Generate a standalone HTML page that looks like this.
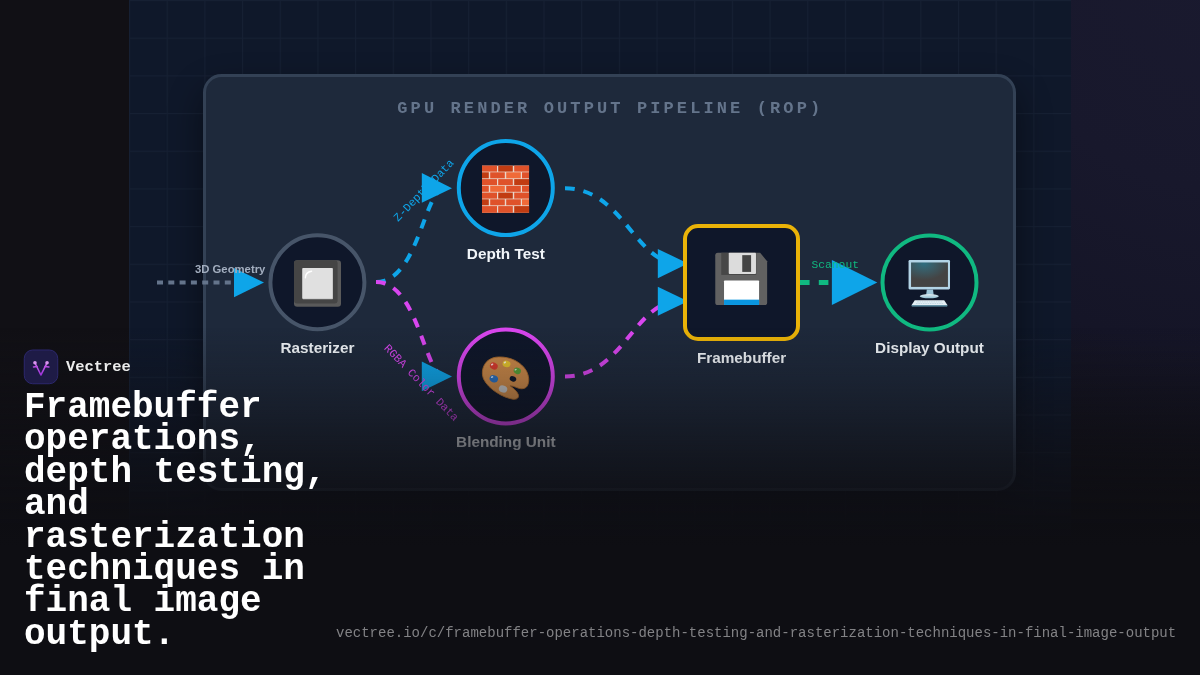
<!DOCTYPE html>
<html><head><meta charset="utf-8">
<style>
html,body{margin:0;padding:0;}
body{width:1200px;height:675px;overflow:hidden;position:relative;background:#111015;font-family:"Liberation Sans",sans-serif;}
#glow{position:absolute;left:0;top:0;width:1200px;height:675px;background:radial-gradient(circle at 1230px -40px,#1a1a2f 0px,#18182c 230px,#151527 390px,#111015 560px);}
#dia{position:absolute;left:0;top:0;width:1200px;height:675px;will-change:transform;}
#ov{position:absolute;left:0;top:0;width:1200px;height:675px;background:linear-gradient(to bottom,rgba(14,14,19,0) 0px,rgba(14,14,19,0) 328px,rgba(14,14,19,0.22) 380px,rgba(14,14,19,0.48) 425px,rgba(14,14,19,0.68) 460px,rgba(14,14,19,0.83) 490px,rgba(14,14,19,0.95) 520px,#0e0e13 548px,#0e0e13 675px);}
#brand{will-change:transform;position:absolute;left:66px;top:354.5px;font:bold 15.4px/24px "Liberation Mono",monospace;color:#ececec;}
#title{will-change:transform;position:absolute;left:24px;top:392px;width:340px;font:bold 36px/32.4px "Liberation Mono",monospace;color:#fff;margin:0;}
#url{will-change:transform;position:absolute;right:24px;top:623.3px;font:14px/20px "Liberation Mono",monospace;color:#828285;}
#logo{position:absolute;left:0;top:0;will-change:transform;}
</style></head><body>
<div id="glow"></div>
<svg id="dia" width="1200" height="675" viewBox="0 0 1200 675">
  <defs>
    <pattern id="grid" x="129" y="0" width="37.68" height="37.68" patternUnits="userSpaceOnUse">
      <rect x="0" y="0" width="37.68" height="1" fill="#162033"/>
      <rect x="0" y="0" width="1" height="37.68" fill="#162033"/>
    </pattern>
    <filter id="shadow" x="-20%" y="-20%" width="140%" height="150%">
      <feGaussianBlur stdDeviation="18"/>
    </filter>
    <radialGradient id="scr" cx="0.35" cy="0.05" r="0.95">
      <stop offset="0" stop-color="#2e6e80"/>
      <stop offset="0.3" stop-color="#3a5c66"/>
      <stop offset="0.7" stop-color="#444"/>
      <stop offset="1" stop-color="#444"/>
    </radialGradient>
    <linearGradient id="base" x1="0" y1="0" x2="0" y2="1">
      <stop offset="0" stop-color="#e3eff5"/>
      <stop offset="1" stop-color="#8dbccf"/>
    </linearGradient>
  </defs>
  <rect x="129" y="0" width="942" height="675" fill="#0f182a"/>
  <rect x="129" y="0" width="942" height="675" fill="url(#grid)"/>
  <!-- card shadow -->
  <rect x="203" y="90" width="813" height="417" rx="18" fill="#000" opacity="0.45" filter="url(#shadow)"/>
  <!-- card -->
  <rect x="204.5" y="75.5" width="810" height="414" rx="17" fill="#1e293b" stroke="#334155" stroke-width="3"/>
  <text x="610.3" y="113" text-anchor="middle" font-family="Liberation Mono" font-weight="bold" font-size="17" letter-spacing="3.11" fill="#64748b">GPU RENDER OUTPUT PIPELINE (ROP)</text>

  <!-- edges -->
  <line x1="157" y1="282.5" x2="234" y2="282.5" stroke="#64748b" stroke-width="4" stroke-dasharray="6 5.3"/>
  <path d="M376 282 C418.8 282 424.2 188.3 444.6 188.3" fill="none" stroke="#0ea5e9" stroke-width="4" stroke-dasharray="9.7 8.9"/>
  <path d="M376 282 C418.8 282 424.2 376.4 444.6 376.4" fill="none" stroke="#d946ef" stroke-width="4" stroke-dasharray="9.7 8.9"/>
  <path d="M565 188.3 C623.4 188.3 634.4 263.5 679 263.5" fill="none" stroke="#0ea5e9" stroke-width="4" stroke-dasharray="9.7 8.9"/>
  <path d="M565 376.4 C623.5 376.4 634.3 301.3 678.6 301.3" fill="none" stroke="#d946ef" stroke-width="4" stroke-dasharray="9.7 8.9"/>
  <line x1="800" y1="282.4" x2="840" y2="282.4" stroke="#10b981" stroke-width="5" stroke-dasharray="9.6 9.2"/>

  <!-- z-depth label (under arrows) -->
  <text font-family="Liberation Mono" font-size="11.3" fill="#0ea5e9" transform="translate(398,222) rotate(-46)">Z-Depth Data</text>

  <!-- arrows -->
  <path d="M234 268 L264 282.6 L234 297.3Z" fill="#0ea5e9"/>
  <path d="M421.8 173.1 L452 188.3 L421.8 202.8Z" fill="#0ea5e9"/>
  <path d="M421.8 361.6 L452 376.4 L421.8 391.2Z" fill="#0ea5e9"/>
  <path d="M657.8 248.9 L688 263.5 L657.8 278.2Z" fill="#0ea5e9"/>
  <path d="M657.8 286.8 L688 301.3 L657.8 315.8Z" fill="#0ea5e9"/>
  <path d="M831.9 260 L877.3 282.5 L831.9 305Z" fill="#0ea5e9"/>

  <!-- labels over arrows -->
  <text x="195" y="273" font-family="Liberation Sans" font-weight="bold" font-size="11.3" fill="#a3aebf">3D Geometry</text>
  <text x="811.5" y="268" font-family="Liberation Mono" font-size="11.3" fill="#10b981">Scanout</text>
  <text font-family="Liberation Mono" font-size="11.3" fill="#d946ef" transform="translate(383.5,348.5) rotate(46)">RGBA Color Data</text>

  <!-- nodes -->
  <circle cx="317.4" cy="282.2" r="47" fill="#0f172a" stroke="#475569" stroke-width="4"/>
  <circle cx="505.8" cy="188" r="47" fill="#0f172a" stroke="#0ea5e9" stroke-width="4"/>
  <circle cx="505.8" cy="376.4" r="47" fill="#0f172a" stroke="#d946ef" stroke-width="4"/>
  <rect x="685" y="226" width="113" height="113" rx="13" fill="#0f172a" stroke="#eab308" stroke-width="4"/>
  <circle cx="929.5" cy="282.4" r="47" fill="#0f172a" stroke="#10b981" stroke-width="4"/>

  <!-- node labels -->
  <g font-family="Liberation Sans" font-weight="bold" font-size="15.3" text-anchor="middle" fill="#f1f5f9">
    <text x="317.5" y="353">Rasterizer</text>
    <text x="505.8" y="258.8">Depth Test</text>
    <text x="505.8" y="447">Blending Unit</text>
    <text x="741.5" y="362.8">Framebuffer</text>
    <text x="929.5" y="353">Display Output</text>
  </g>

  <!-- emoji: white square button -->
  <g>
    <rect x="294" y="260.3" width="47" height="46.4" rx="3.2" fill="#5a5a5a"/>
    <rect x="294" y="260.3" width="43.6" height="43.2" rx="3" fill="#454545"/>
    <rect x="302.4" y="268.1" width="30.6" height="31.2" rx="0.8" fill="#c2c2c2"/>
    <rect x="302.4" y="268.1" width="29.8" height="30.4" rx="0.8" fill="#e0e0e0"/>
    <path d="M305.4 277.8 Q305.4 272.2 311.6 271.2" fill="none" stroke="#fff" stroke-width="1.4" stroke-linecap="round"/>
  </g>
  <!-- emoji: brick -->
  <g>
    <rect x="482.00" y="165.60" width="47.04" height="47.20" fill="#e9d6ca"/>
    <rect x="482.0" y="165.6" width="15.0" height="6.0" fill="#df522a"/>
    <rect x="498.2" y="165.6" width="14.6" height="6.0" fill="#c13c12"/>
    <rect x="514.2" y="165.6" width="14.9" height="6.0" fill="#df522a"/>
    <rect x="482.0" y="172.3" width="6.8" height="6.0" fill="#c13c12"/>
    <rect x="490.2" y="172.3" width="14.6" height="6.0" fill="#df522a"/>
    <rect x="506.2" y="172.3" width="14.6" height="6.0" fill="#f06a38"/>
    <rect x="522.0" y="172.3" width="7.0" height="6.0" fill="#df522a"/>
    <rect x="482.0" y="179.1" width="15.0" height="6.0" fill="#df522a"/>
    <rect x="498.2" y="179.1" width="14.6" height="6.0" fill="#df522a"/>
    <rect x="514.2" y="179.1" width="14.9" height="6.0" fill="#c13c12"/>
    <rect x="482.0" y="185.8" width="6.8" height="6.0" fill="#df522a"/>
    <rect x="490.2" y="185.8" width="14.6" height="6.0" fill="#f06a38"/>
    <rect x="506.2" y="185.8" width="14.6" height="6.0" fill="#df522a"/>
    <rect x="522.0" y="185.8" width="7.0" height="6.0" fill="#df522a"/>
    <rect x="482.0" y="192.6" width="15.0" height="6.0" fill="#df522a"/>
    <rect x="498.2" y="192.6" width="14.6" height="6.0" fill="#c13c12"/>
    <rect x="514.2" y="192.6" width="14.9" height="6.0" fill="#df522a"/>
    <rect x="482.0" y="199.3" width="6.8" height="6.0" fill="#c13c12"/>
    <rect x="490.2" y="199.3" width="14.6" height="6.0" fill="#df522a"/>
    <rect x="506.2" y="199.3" width="14.6" height="6.0" fill="#df522a"/>
    <rect x="522.0" y="199.3" width="7.0" height="6.0" fill="#f06a38"/>
    <rect x="482.0" y="206.1" width="15.0" height="6.7" fill="#df522a"/>
    <rect x="498.2" y="206.1" width="14.6" height="6.7" fill="#df522a"/>
    <rect x="514.2" y="206.1" width="14.9" height="6.7" fill="#c13c12"/>
  </g>
  <!-- emoji: palette -->
  <g transform="translate(478,352) scale(0.07704)">
    <path d="M270 65 C420 60 560 130 625 240 C665 310 668 390 640 440 C615 480 560 484 520 468 C480 452 440 436 415 438 C450 465 505 505 522 550 C538 592 505 622 450 612 C330 592 140 490 72 350 C40 270 58 170 130 110 C170 80 220 65 270 65Z" fill="#cb8949" stroke="#a8692d" stroke-width="12"/>
    <ellipse cx="454" cy="348" rx="44" ry="34" transform="rotate(25 454 348)" fill="#0f172a"/>
    <ellipse cx="205" cy="182" rx="52" ry="44" transform="rotate(25 205 182)" fill="#d83b2e"/>
    <ellipse cx="370" cy="155" rx="52" ry="42" transform="rotate(15 370 155)" fill="#e6c42e"/>
    <ellipse cx="510" cy="245" rx="48" ry="40" transform="rotate(25 510 245)" fill="#57a038"/>
    <ellipse cx="205" cy="348" rx="56" ry="46" transform="rotate(20 205 348)" fill="#2a6fbd"/>
    <ellipse cx="325" cy="480" rx="56" ry="46" transform="rotate(20 325 480)" fill="#c3c3c3"/>
    <ellipse cx="183" cy="162" rx="17" ry="11" transform="rotate(-30 183 162)" fill="#fff" opacity="0.85"/>
    <ellipse cx="348" cy="135" rx="17" ry="11" transform="rotate(-30 348 135)" fill="#fff" opacity="0.85"/>
    <ellipse cx="488" cy="228" rx="15" ry="10" transform="rotate(-30 488 228)" fill="#fff" opacity="0.75"/>
    <ellipse cx="183" cy="325" rx="17" ry="11" transform="rotate(-30 183 325)" fill="#fff" opacity="0.75"/>
  </g>
  <!-- emoji: floppy -->
  <g transform="translate(712,250) scale(0.0859)">
    <path d="M68 32 L560 32 L642 130 L642 610 Q642 640 612 640 L68 640 Q38 640 38 610 L38 62 Q38 32 68 32Z" fill="#616161"/>
    <rect x="108" y="32" width="407" height="258" fill="#474747"/>
    <rect x="195" y="32" width="317" height="246" rx="10" fill="#dcdcdc"/>
    <rect x="352" y="60" width="103" height="195" fill="#444"/>
    <rect x="140" y="355" width="408" height="285" rx="8" fill="#fff"/>
    <rect x="140" y="578" width="408" height="62" fill="#0a96e0"/>
  </g>
  <!-- emoji: desktop -->
  <g transform="translate(904,255) scale(0.0829)">
    <rect x="55" y="60" width="500" height="355" rx="14" fill="#b3d4e6"/>
    <rect x="85" y="90" width="445" height="295" fill="url(#scr)"/>
    <path d="M275 415 L350 415 L358 480 L267 480Z" fill="#9cc5d8"/>
    <ellipse cx="305" cy="497" rx="115" ry="26" fill="url(#base)"/>
    <path d="M130 545 L485 545 L525 605 L90 605Z" fill="#e4eff5"/>
    <path d="M90 605 L525 605 L520 622 L95 622Z" fill="#6aa4b8"/>
    <path d="M160 565 H455 M145 585 H470" stroke="#b5d0dc" stroke-width="8" stroke-dasharray="18 10"/>
  </g>

</svg>
<div id="ov"></div>
<svg id="logo" width="1200" height="675" viewBox="0 0 1200 675" style="position:absolute;left:0;top:0">
  <defs><linearGradient id="logoV" x1="0" y1="0" x2="0" y2="1"><stop offset="0" stop-color="#d26cf0"/><stop offset="1" stop-color="#9b30d8"/></linearGradient></defs>
  <g transform="translate(22,348) scale(0.0563)">
    <rect x="40" y="35" width="595" height="600" rx="150" fill="#1e1b46" stroke="#2f2a74" stroke-width="16"/>
    <path d="M236 275 L335 480 L440 275" fill="none" stroke="url(#logoV)" stroke-width="28" stroke-linejoin="round" stroke-linecap="round"/>
    <path d="M205 337 L268 330 M408 330 L478 337" fill="none" stroke="#bd4ee6" stroke-width="28" stroke-linecap="round"/>
    <circle cx="230" cy="262" r="32" fill="#d994ef"/>
    <circle cx="445" cy="262" r="32" fill="#d994ef"/>
  </g>
</svg>
<div id="brand">Vectree</div>
<h1 id="title">Framebuffer operations, depth testing, and rasterization techniques in final image output.</h1>
<div id="url">vectree.io/c/framebuffer-operations-depth-testing-and-rasterization-techniques-in-final-image-output</div>
</body></html>
